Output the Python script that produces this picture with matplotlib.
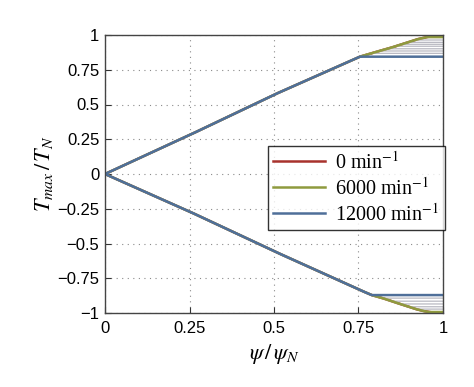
import numpy as np
import matplotlib
matplotlib.use("Agg")
import matplotlib.pyplot as plt

# Envelope (0 min^-1 curve)
psi_up = [0.0, 0.25, 0.5, 0.754, 0.78, 0.80, 0.843, 0.88, 0.922, 0.95, 0.975, 1.0]
T_up = [0.0, 0.28, 0.57, 0.844, 0.862, 0.877, 0.906, 0.935, 0.968, 0.984, 0.995, 1.0]
psi_lo = [0.0, 0.25, 0.5, 0.75, 0.789, 0.82, 0.843, 0.892, 0.92, 0.942, 0.97, 1.0]
T_lo = [0.0, -0.27, -0.555, -0.83, -0.871, -0.892, -0.911, -0.950, -0.972, -0.986, -0.997, -1.0]

# Saturation levels per speed
speeds = ["0 min$^{-1}$", "6000 min$^{-1}$", "12000 min$^{-1}$"]
level_up = [1.0, 0.985, 0.844]
level_lo = [-1.0, -0.993, -0.871]
colors = ["#a8322d", "#8f9a3e", "#4f6f99"]

gray_up = [0.868, 0.885, 0.901, 0.919, 0.933, 0.947, 0.964]
gray_lo = [-0.893, -0.915, -0.935, -0.955, -0.972]

xticks = [0, 0.25, 0.5, 0.75, 1]
xticklabels = ["0", "0.25", "0.5", "0.75", "1"]
yticks = [1, 0.75, 0.5, 0.25, 0, -0.25, -0.5, -0.75, -1]
yticklabels = ["1", "0.75", "0.5", "0.25", "0", "\u22120.25", "\u22120.5", "\u22120.75", "\u22121"]

plt.rcParams['mathtext.fontset'] = 'stix'

fig = plt.figure(figsize=(4.74, 3.87), dpi=100)
ax = fig.add_axes([105/474, 1-313/387, 338/474, 278/387])

xs = np.linspace(0, 1, 401)
env_up = np.interp(xs, psi_up, T_up)
env_lo = np.interp(xs, psi_lo, T_lo)

# red first
ax.plot(xs, np.minimum(env_up, level_up[0]), color=colors[0], lw=1.8, label=speeds[0])
ax.plot(xs, np.maximum(env_lo, level_lo[0]), color=colors[0], lw=1.8)
for g in gray_up:
    ax.plot(xs, np.minimum(env_up, g), color="#b9b9c2", lw=0.9)
for g in gray_lo:
    ax.plot(xs, np.maximum(env_lo, g), color="#b9b9c2", lw=0.9)
for i in [1, 2]:
    ax.plot(xs, np.minimum(env_up, level_up[i]), color=colors[i], lw=1.8, label=speeds[i])
    ax.plot(xs, np.maximum(env_lo, level_lo[i]), color=colors[i], lw=1.8)

ax.set_xlim(0, 1)
ax.set_ylim(-1, 1)
ax.set_xticks(xticks)
ax.set_xticklabels(xticklabels)
ax.set_yticks(yticks)
ax.set_yticklabels(yticklabels)
ax.grid(True, linestyle=(0, (1, 4)), color="#8a8a8a", linewidth=0.8)
ax.tick_params(direction="in", length=4, width=0.8, colors="#333333", labelcolor="black",
               top=False, right=False, labelsize=12)
for lab in ax.get_xticklabels() + ax.get_yticklabels():
    lab.set_family("Liberation Sans")
for s in ax.spines.values():
    s.set_color("#444444")
    s.set_linewidth(1.0)
ax.tick_params(axis='x', pad=6)
ax.tick_params(axis='y', pad=4)

ax.set_xlabel(r"$\psi\,/\,\psi_N$", fontsize=16, labelpad=4)
ax.set_ylabel(r"$T_{max}\,/\,T_N$", fontsize=16, labelpad=2)

leg = ax.legend(loc="upper right", bbox_to_anchor=(1.005, 0.60), frameon=True, fancybox=False,
                edgecolor="black", handlelength=2.6, handletextpad=0.5,
                borderpad=0.25, labelspacing=0.2, borderaxespad=0.0,
                prop={"family": "Liberation Serif", "size": 14.5})
leg.get_frame().set_linewidth(1.0)

fig.savefig("out.png", dpi=100)
